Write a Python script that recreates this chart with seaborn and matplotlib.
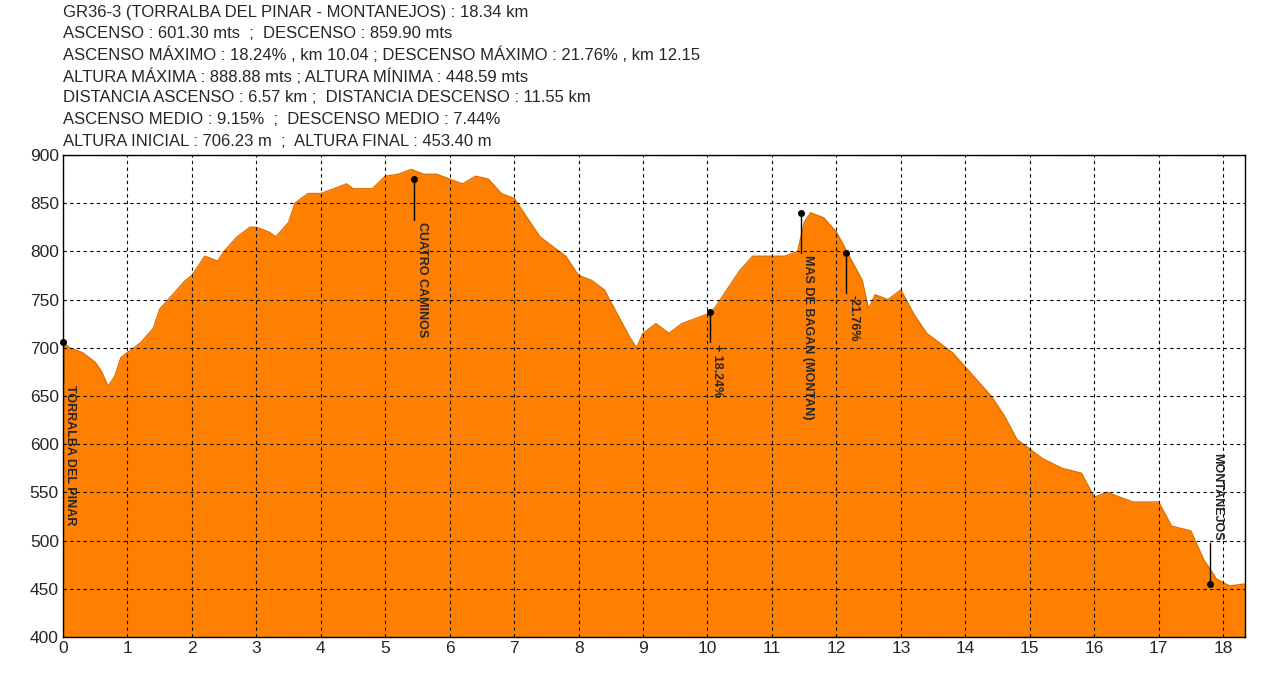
import matplotlib
matplotlib.use("Agg")
import matplotlib.pyplot as plt
import seaborn as sns
import pandas as pd

km = [0,0.1,0.3,0.5,0.6,0.7,0.8,0.9,1.0,1.2,1.4,1.5,1.7,1.9,2.0,2.2,2.4,2.5,2.7,2.9,3.0,3.2,3.3,3.5,3.6,3.8,4.0,4.2,4.4,4.5,4.8,5.0,5.2,5.4,5.6,5.8,6.0,6.2,6.4,6.6,6.8,7.0,7.2,7.4,7.6,7.8,8.0,8.2,8.4,8.6,8.8,8.9,9.0,9.2,9.4,9.6,9.8,10.0,10.1,10.3,10.5,10.7,11.0,11.2,11.4,11.5,11.6,11.8,12.0,12.2,12.4,12.5,12.6,12.8,13.0,13.2,13.4,13.6,13.8,14.0,14.2,14.4,14.6,14.8,15.0,15.2,15.5,15.8,16.0,16.2,16.4,16.6,17.0,17.2,17.5,17.7,17.9,18.1,18.34]
elev = [706,700,695,685,675,660,670,690,695,705,720,740,755,770,775,795,790,800,815,825,825,820,815,830,850,860,860,865,870,865,865,878,880,885,880,880,875,870,878,875,860,855,835,815,805,795,775,770,760,735,710,700,715,725,715,725,730,735,740,760,780,795,795,795,800,830,840,835,820,795,770,740,755,750,760,735,715,705,695,680,665,650,630,605,595,585,575,570,545,550,545,540,540,515,510,480,460,453,455]

# markers: km, elevation, label, line end elevation
mk_km = [0, 5.45, 10.04, 11.45, 12.15, 17.8]
mk_el = [706, 875, 737, 840, 798, 455]
mk_lab = ["TORRALBA DEL PINAR", "CUATRO CAMINOS", "+ 18.24%", "MAS DE BAGAN (MONTAN)", "-21.76%", "MONTANEJOS"]
mk_end = [663, 833, 706, 798, 757, 498]

header = ["GR36-3 (TORRALBA DEL PINAR - MONTANEJOS) : 18.34 km",
          "ASCENSO : 601.30 mts  ;  DESCENSO : 859.90 mts",
          "ASCENSO MÁXIMO : 18.24% , km 10.04 ; DESCENSO MÁXIMO : 21.76% , km 12.15",
          "ALTURA MÁXIMA : 888.88 mts ; ALTURA MÍNIMA : 448.59 mts",
          "DISTANCIA ASCENSO : 6.57 km ;  DISTANCIA DESCENSO : 11.55 km",
          "ASCENSO MEDIO : 9.15%  ;  DESCENSO MEDIO : 7.44%",
          "ALTURA INICIAL : 706.23 m  ;  ALTURA FINAL : 453.40 m"]

sns.set_style("white")
plt.rcParams['font.family'] = ['Liberation Sans', 'DejaVu Sans']
fig = plt.figure(figsize=(12.76, 6.76), dpi=100)
ax = fig.add_axes([63/1276, 39/676, 1182/1276, 482/676])
df = pd.DataFrame({"km": km, "elev": elev})
ax.fill_between(df.km, 400, df.elev, color="#FF8000", lw=0, zorder=1)
sns.lineplot(data=df, x="km", y="elev", ax=ax, color="#E07000", lw=1, zorder=2)
ax.set_xlim(0, 18.34)
ax.set_ylim(400, 900)
ax.set_xticks(range(0, 19))
ax.set_yticks(range(400, 901, 50))
ax.tick_params(labelsize=12.5, length=0, pad=3)
ax.set_xlabel(""); ax.set_ylabel("")
ax.grid(True, color="black", ls=(0, (3, 3)), lw=0.8, zorder=3)
ax.set_axisbelow(False)
for s in ax.spines.values():
    s.set_color("black"); s.set_linewidth(1)

for x, y, lab, ye in zip(mk_km, mk_el, mk_lab, mk_end):
    ax.plot([x, x], [y, ye], color="black", lw=1, zorder=4)
    ax.plot([x], [y], "o", color="black", ms=4, zorder=5, clip_on=False)
    if ye < y:
        ax.text(x + 0.02, ye - 2, lab, rotation=-90, ha="left", va="top", fontsize=9, fontweight="bold", zorder=5)
    else:
        ax.text(x + 0.02, ye + 2, lab, rotation=-90, ha="left", va="bottom", fontsize=9, fontweight="bold", zorder=5)

for i, line in enumerate(header):
    fig.text(63/1276, 1 - (12 + 21.5 * i) / 676, line, fontsize=12, va="center", ha="left")

fig.savefig("out.png", dpi=100)
